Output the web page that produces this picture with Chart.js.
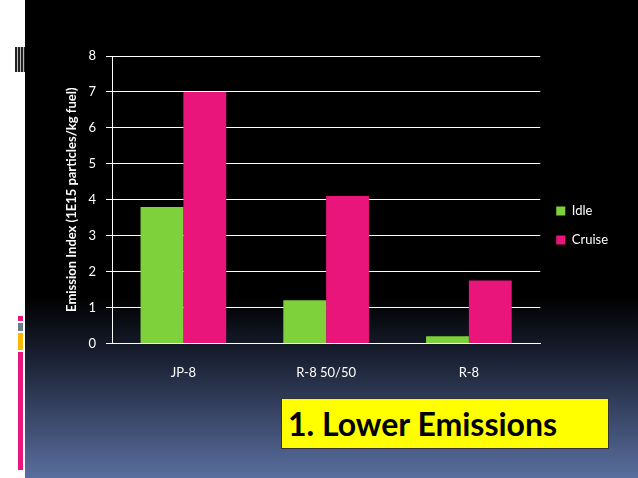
<!DOCTYPE html>
<html lang="en">
<head>
<meta charset="UTF-8">
<title>Lower Emissions</title>
<script src="https://cdn.jsdelivr.net/npm/chart.js"></script>
<style>
    body {
        margin: 0;
        width: 638px;
        height: 478px;
        position: relative;
        overflow: hidden;
        font-family: 'Lato', sans-serif;
        background: linear-gradient(180deg, #000 0%, #000 62%, #1a2133 75%, #5a6f9f 100%);
    }
    .strip { position: absolute; left: 0; top: 0; width: 25px; height: 478px; background: #fff; }
    .deco { position: absolute; }
    .chart-box { position: absolute; left: 60px; top: 30px; width: 578px; height: 365px; }
    .title {
        position: absolute; left: 281px; top: 398px; width: 328px; height: 51px;
        background: #ffff00; border: 1px solid #333; box-sizing: border-box;
        font: bold 32px 'Lato', sans-serif; color: #000;
        line-height: 50px; padding-left: 6px;
    }
</style>
</head>
<body>
<div class="strip"></div>
<div class="deco" style="left:15px;top:47px;width:10px;height:25px;background:repeating-linear-gradient(90deg,#222 0 2px,#bbb 2px 3px);"></div>
<div class="deco" style="left:18px;top:316px;width:5px;height:5px;background:#e8157a;"></div>
<div class="deco" style="left:18px;top:323px;width:5px;height:8px;background:#6a7a90;"></div>
<div class="deco" style="left:18px;top:333px;width:5px;height:17px;background:#f6b800;"></div>
<div class="deco" style="left:18px;top:352px;width:5px;height:118px;background:#e8157a;"></div>
<div class="chart-box"><canvas id="c"></canvas></div>
<div class="title">1. Lower Emissions</div>
<script>
    const categories = ['JP-8', 'R-8 50/50', 'R-8'];
    const idleValues = [3.8, 1.2, 0.2];
    const cruiseValues = [7.0, 4.1, 1.75];
    const yTitle = 'Emission Index (1E15 particles/kg fuel)';

    new Chart(document.getElementById('c'), {
        type: 'bar',
        data: {
            labels: categories,
            datasets: [
                { label: 'Idle', data: idleValues, backgroundColor: '#7fd13b' },
                { label: 'Cruise', data: cruiseValues, backgroundColor: '#ea157a' }
            ]
        },
        options: {
            responsive: true,
            maintainAspectRatio: false,
            animation: false,
            categoryPercentage: 0.6,
            barPercentage: 1.0,
            layout: { padding: { top: 26, right: 20 } },
            scales: {
                x: {
                    grid: { display: false, drawTicks: true },
                    border: { color: '#fff' },
                    ticks: { color: '#fff', font: { family: 'Lato', size: 13 }, padding: 14 }
                },
                y: {
                    min: 0, max: 8,
                    ticks: { stepSize: 1, color: '#fff', font: { family: 'Lato', size: 13 }, padding: 10 },
                    grid: { color: '#fff', tickLength: 6 },
                    border: { color: '#fff' },
                    title: { display: true, text: yTitle, color: '#fff', font: { family: 'Lato', size: 13, weight: 'bold' } },
                    afterFit: s => { s.width = 52; }
                }
            },
            plugins: {
                legend: {
                    position: 'right',
                    labels: { color: '#fff', boxWidth: 9, boxHeight: 9, padding: 16, font: { family: 'Lato', size: 13 } }
                },
                tooltip: { enabled: false }
            }
        }
    });
</script>
</body>
</html>
